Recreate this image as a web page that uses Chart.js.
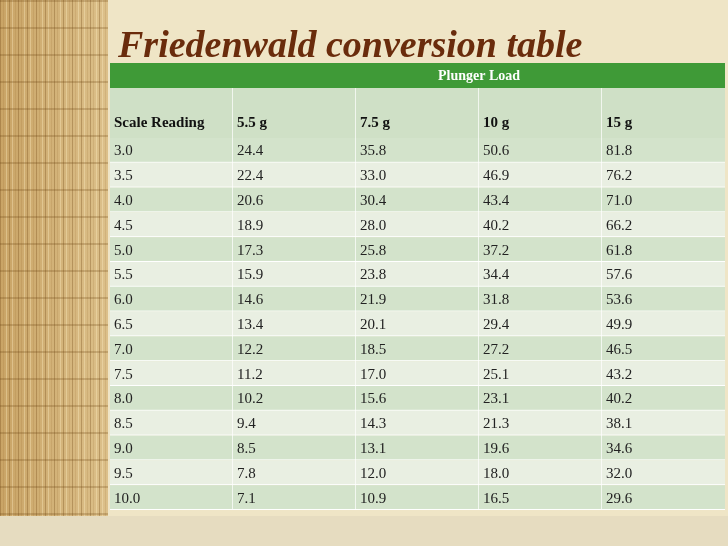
<!DOCTYPE html><html><head><meta charset="utf-8">
<script src="https://cdn.jsdelivr.net/npm/chart.js@4"></script>
<style>html,body{margin:0;padding:0;background:#efe5c6}canvas{display:block}</style></head><body>
<div style="width:728px;height:546px"><canvas id="c" width="728" height="546"></canvas></div>
<script>
const title = "Friedenwald conversion table";
const groupLabel = "Plunger Load";
const headers = ["Scale Reading", "5.5 g", "7.5 g", "10 g", "15 g"];
const scaleReadings = ["3.0","3.5","4.0","4.5","5.0","5.5","6.0","6.5","7.0","7.5","8.0","8.5","9.0","9.5","10.0"];
const load55 = ["24.4","22.4","20.6","18.9","17.3","15.9","14.6","13.4","12.2","11.2","10.2","9.4","8.5","7.8","7.1"];
const load75 = ["35.8","33.0","30.4","28.0","25.8","23.8","21.9","20.1","18.5","17.0","15.6","14.3","13.1","12.0","10.9"];
const load10 = ["50.6","46.9","43.4","40.2","37.2","34.4","31.8","29.4","27.2","25.1","23.1","21.3","19.6","18.0","16.5"];
const load15 = ["81.8","76.2","71.0","66.2","61.8","57.6","53.6","49.9","46.5","43.2","40.2","38.1","34.6","32.0","29.6"];
const columns = [scaleReadings, load55, load75, load10, load15];

const tablePlugin = {
  id: 'table',
  beforeDraw(chart) {
    const ctx = chart.ctx, W = chart.width, H = chart.height;
    ctx.save();
    ctx.fillStyle = '#efe5c6'; ctx.fillRect(0,0,W,H);
    const g = ctx.createLinearGradient(0,0,108,0);
    g.addColorStop(0,'#c9a466'); g.addColorStop(1,'#dcc08a');
    ctx.fillStyle = g; ctx.fillRect(0,0,108,H);
    for (let i=0;i<108;i+=3){ ctx.fillStyle = (i%9===0)?'rgba(120,80,30,0.35)':(i%6===0?'rgba(255,240,200,0.35)':'rgba(150,100,40,0.15)'); ctx.fillRect(i,0,1,H); }
    for (let y=0;y<H;y+=27){ ctx.fillStyle='rgba(110,70,20,0.25)'; ctx.fillRect(0,y,108,2); }
    ctx.fillStyle='#e6dcc0'; ctx.fillRect(0,516,W,30);
    ctx.fillStyle = '#6a2c0c';
    ctx.font = 'bold italic 38px "Liberation Serif", serif';
    ctx.textBaseline = 'alphabetic';
    ctx.fillText(title, 118, 57);
    ctx.restore();
  },
  afterDraw(chart) {
    const ctx = chart.ctx, x = chart.scales.x, y = chart.scales.y, a = chart.chartArea;
    ctx.save();
    const left = a.left, right = a.right;
    ctx.fillStyle = '#3f9a37'; ctx.fillRect(left, 63, right-left, 25);
    ctx.fillStyle = '#cfe0c6'; ctx.fillRect(left, 88, right-left, a.top-88);
    ctx.fillStyle = '#fff'; ctx.font = 'bold 14px "Liberation Serif", serif';
    ctx.textBaseline='middle'; ctx.textAlign='center';
    ctx.fillText(groupLabel, x.getPixelForValue(3), 76);
    ctx.textAlign='left';
    ctx.fillStyle='#111'; ctx.font = 'bold 15px "Liberation Serif", serif';
    headers.forEach((h,i)=>ctx.fillText(h, x.getPixelForValue(i)+4, 123));
    const n = scaleReadings.length;
    const rh = (a.bottom-a.top)/n;
    ctx.font = '15px "Liberation Serif", serif';
    scaleReadings.forEach((r,j)=>{
      const cy = y.getPixelForValue(j);
      ctx.fillStyle = j%2===0 ? '#d3e3cb' : '#e9efe2';
      ctx.fillRect(left, cy-rh/2, right-left, rh);
      ctx.fillStyle='#fff'; ctx.fillRect(left, cy+rh/2-1, right-left, 1);
    });
    ctx.fillStyle='rgba(255,255,255,0.7)';
    for (let i=1;i<5;i++){ ctx.fillRect(x.getPixelForValue(i)-1, 88, 1, a.bottom-88); }
    ctx.fillStyle='#222';
    columns.forEach((col,i)=>col.forEach((v,j)=>{
      ctx.fillText(v, x.getPixelForValue(i)+4, y.getPixelForValue(j)+1);
    }));
    ctx.restore();
  }
};

new Chart(document.getElementById('c'), {
  type: 'scatter',
  data: { labels: scaleReadings, datasets: [{ data: [] }] },
  options: {
    responsive: false, animation: false, devicePixelRatio: 1,
    layout: { padding: { left: 110, right: 3, top: 138, bottom: 36 } },
    plugins: { legend: { display: false }, tooltip: { enabled: false } },
    scales: {
      x: { type: 'linear', min: 0, max: 5, display: false },
      y: { type: 'category', labels: scaleReadings, offset: true, display: false }
    }
  },
  plugins: [tablePlugin]
});
</script></body></html>
